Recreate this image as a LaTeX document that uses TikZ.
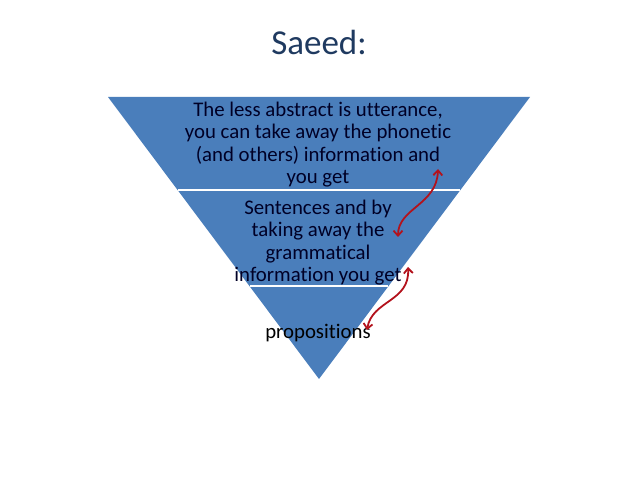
\documentclass[tikz,border=0pt]{standalone}
\usepackage{fontspec}
\setmainfont{Carlito}[Ligatures=NoCommon]
\usepackage{tikz}
\usetikzlibrary{arrows.meta,calc}
\definecolor{layerblue}{HTML}{4A7EBB}
\definecolor{titleblue}{HTML}{1F3A60}
\definecolor{linkred}{HTML}{B3121C}
\tikzset{
    layertext/.style={align=center, text=black!85!blue, font=\fontsize{20.8}{22.3}\selectfont},
    link/.style={linkred, line width=1.8pt, {Straight Barb[length=5pt,width=9pt]}-{Straight Barb[length=5pt,width=9pt]}}
}

\begin{document}
\begin{tikzpicture}[x=1pt,y=-1pt]
\def\topy{97}       % top edge of the pyramid
\def\cuta{190.5}    % first white separator
\def\cutb{286.5}    % second white separator
\useasboundingbox (0,0) rectangle (638,478);
% title
\node[text=titleblue, font=\fontsize{35}{40}\selectfont] (title) at (319,42) {Saeed:};
% pyramid
\coordinate (tl) at (108,\topy);
\coordinate (tr) at (530,\topy);
\coordinate (apex) at (319,379);
\fill[layerblue] (tl) -- (tr) -- (apex) -- cycle;
% separators
\foreach \y in {\cuta,\cutb} {%
\draw[white, line width=2pt] ($(tl)!{(\y-\topy)/282}!(apex)$) -- ($(tr)!{(\y-\topy)/282}!(apex)$);
};
% layers
\node[layertext] (utter) at (318,144.5) {The less abstract is utterance,\\you can take away the phonetic\\(and others) information and\\you get};
\node[layertext] (sent) at (318,242.5) {Sentences and by\\taking away the\\grammatical\\information you get};
\node[layertext, text=black] (prop) at (318,333) {propositions};
% links
\coordinate (linkaup) at (438,169);
\coordinate (linkadown) at (398,237);
\coordinate (linkbup) at (408,267);
\coordinate (linkbdown) at (367,330);
\draw[link] (linkadown) .. controls (398,208) and (437,205) .. (linkaup);
\draw[link] (linkbdown) .. controls (372,300) and (410,302) .. (linkbup);
\end{tikzpicture}
\end{document}
